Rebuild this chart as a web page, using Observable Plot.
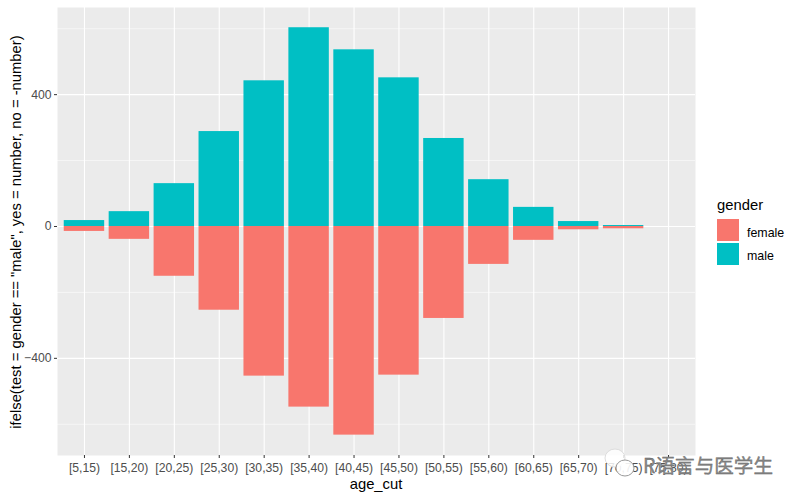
<!DOCTYPE html>
<html>
<head>
<meta charset="utf-8">
<script src="https://cdn.jsdelivr.net/npm/d3@7"></script>
<script src="https://cdn.jsdelivr.net/npm/@observablehq/plot@0.6"></script>
<style>
html,body{margin:0;padding:0;background:#fff;}
#wrap{position:relative;width:800px;height:500px;overflow:hidden;font-family:"Liberation Sans",Arial,sans-serif;}
#wrap svg.plot{position:absolute;left:0;top:0;}
.ylab{position:absolute;left:16px;top:231.5px;transform:translate(-50%,-50%) rotate(-90deg);white-space:nowrap;font-size:14.8px;color:#000;}
.xlab{position:absolute;left:376px;top:484px;transform:translate(-50%,-50%);white-space:nowrap;font-size:14.8px;color:#000;}
.lt{position:absolute;left:717px;top:197px;font-size:14.8px;line-height:17px;color:#000;}
.sw{position:absolute;left:717px;width:22px;height:22px;}
.ll{position:absolute;left:747px;font-size:12.4px;line-height:14px;color:#000;}
.wm{position:absolute;left:643px;top:451px;font-family:"Noto Sans CJK SC",sans-serif;font-size:19.6px;line-height:28px;color:#8a8a8a;white-space:nowrap;-webkit-text-stroke:0.3px #555;text-shadow:0 0 1px #fff;}
.icon{position:absolute;left:600px;top:445px;}
</style>
</head>
<body>
<div id="wrap"></div>
<script>
const categories = ["[5,15)","[15,20)","[20,25)","[25,30)","[30,35)","[35,40)","[40,45)","[45,50)","[50,55)","[55,60)","[60,65)","[65,70)","[70,75)","[75,80)"];
const maleValues = [18,45,130,288,442,603,536,451,267,142,58,15,3,0];
const femaleValues = [-15,-39,-151,-254,-454,-548,-633,-451,-279,-115,-42,-10,-7,0];
const majorY = [-400,0,400];
const minorY = [-600,-200,200,600];
const colors = {female:"#F8766D", male:"#00BFC4"};
const yDomain = [-694.8,664.4];

const rows = categories.flatMap((c,i)=>[
  {age_cut:c, gender:"male", value:maleValues[i]},
  {age_cut:c, gender:"female", value:femaleValues[i]}
]);

const chart = Plot.plot({
  width:800, height:500,
  marginLeft:57, marginRight:105, marginTop:7, marginBottom:45,
  style:{background:"transparent", fontFamily:"'Liberation Sans',Arial,sans-serif"},
  x:{type:"band", domain:categories, paddingInner:0.1, paddingOuter:0.15, align:0.5, round:false, label:null},
  y:{domain:yDomain, label:null},
  color:{domain:Object.keys(colors), range:Object.values(colors)},
  marks:[
    Plot.frame({fill:"#EBEBEB", stroke:null}),
    Plot.ruleY(minorY,{stroke:"#fff", strokeWidth:0.55}),
    Plot.ruleY(majorY,{stroke:"#fff", strokeWidth:1.1}),
    Plot.gridX(categories,{stroke:"#fff", strokeOpacity:1, strokeWidth:1.1}),
    Plot.barY(rows,{x:"age_cut", y1:0, y2:"value", fill:"gender", inset:0}),
    Plot.axisX({tickSize:3, tickPadding:4.5, fontSize:12.2, label:null, stroke:"#333", color:"#4D4D4D", fill:"#4D4D4D"}),
    Plot.axisY(majorY,{tickSize:3, tickPadding:3, fontSize:12.2, label:null, stroke:"#333", fill:"#4D4D4D"})
  ]
});
const wrap = document.getElementById("wrap");
chart.classList.add("plot");
wrap.appendChild(chart);

function add(cls, text, css){
  const d=document.createElement("div");
  d.className=cls; if(text) d.textContent=text;
  Object.assign(d.style, css||{});
  wrap.appendChild(d);
}
add("ylab",'ifelse(test = gender == "male", yes = number, no = -number)');
add("xlab","age_cut");
add("lt","gender");
add("sw","",{top:"219px",background:colors.female});
add("sw","",{top:"242.5px",background:colors.male});
add("ll","female",{top:"226px"});
add("ll","male",{top:"249px"});
wrap.insertAdjacentHTML("beforeend",`<svg class="icon" width="42" height="36">
<ellipse cx="15" cy="13" rx="10" ry="9" fill="#fff" fill-opacity="0.85" stroke="#ddd" stroke-width="1"/>
<ellipse cx="25" cy="23" rx="9" ry="8" fill="#fff" fill-opacity="0.9" stroke="#999" stroke-width="1"/></svg>`);
add("wm","R语言与医学生");
</script>
</body>
</html>
